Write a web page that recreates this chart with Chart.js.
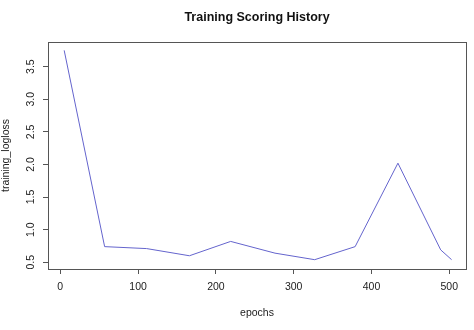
<!DOCTYPE html>
<html>
<head>
<meta charset="utf-8">
<script src="https://cdn.jsdelivr.net/npm/chart.js@4"></script>
<style>
  html, body { margin: 0; padding: 0; background: #fff; }
  #wrap { width: 474px; height: 330px; }
</style>
</head>
<body>
<div id="wrap"><canvas id="scoreChart" width="474" height="330"></canvas></div>
<script>
// values
const epochs = [5, 57, 111, 166, 219, 276, 327, 379, 434, 489, 503];
const trainingLogloss = [3.75, 0.74, 0.71, 0.60, 0.82, 0.64, 0.54, 0.74, 2.02, 0.69, 0.54];
const xTicks = [0, 100, 200, 300, 400, 500];
const yTicks = [0.5, 1.0, 1.5, 2.0, 2.5, 3.0, 3.5];

const FONT = "'Liberation Sans', Arial, sans-serif";
const axisGray = "#555555";

const points = epochs.map((e, i) => ({ x: e, y: trainingLogloss[i] }));

// box, title and rotated y tick labels, R style
const rPlot = {
    id: "rPlot",
    afterDraw(chart) {
        const c = chart.ctx;
        const a = chart.chartArea;
        c.save();
        c.strokeStyle = axisGray;
        c.lineWidth = 1;
        c.strokeRect(Math.round(a.left) + 0.5, Math.round(a.top) + 0.5,
            Math.round(a.right - a.left), Math.round(a.bottom - a.top));

        c.fillStyle = "#111";
        c.font = "bold 12.5px " + FONT;
        c.textAlign = "center";
        c.textBaseline = "middle";
        c.fillText("Training Scoring History", (a.left + a.right) / 2, 17.5);

        const ys = chart.scales.y;
        c.font = "10.5px " + FONT;
        c.fillStyle = "#222";
        c.textBaseline = "alphabetic";
        yTicks.forEach(v => {
            c.save();
            c.translate(33.5, ys.getPixelForValue(v));
            c.rotate(-Math.PI / 2);
            c.fillText(v.toFixed(1), 0, 0);
            c.restore();
        });
        c.restore();
    }
};

new Chart(document.getElementById("scoreChart"), {
    type: "line",
    data: {
        datasets: [{
            label: "training_logloss",
            data: points,
            borderColor: "rgb(100,100,205)",
            borderWidth: 1,
            pointRadius: 0,
            tension: 0,
            fill: false
        }]
    },
    options: {
        responsive: false,
        animation: false,
        devicePixelRatio: 1,
        layout: { padding: { top: 42, right: 8, left: 0, bottom: 0 } },
        plugins: {
            legend: { display: false },
            title: { display: false },
            tooltip: { enabled: false }
        },
        scales: {
            x: {
                type: "linear",
                min: -15.8,
                max: 521.5,
                afterBuildTicks: s => { s.ticks = xTicks.map(v => ({ value: v })); },
                afterFit: s => { s.height = 61; },
                grid: { drawOnChartArea: false, tickLength: 5, color: axisGray },
                border: { display: false },
                ticks: {
                    color: "#222",
                    font: { family: FONT, size: 10.5 },
                    padding: 7,
                    maxRotation: 0
                },
                title: {
                    display: true,
                    text: "epochs",
                    color: "#222",
                    font: { family: FONT, size: 10.5 },
                    padding: { top: 0, bottom: 11 }
                }
            },
            y: {
                min: 0.397,
                max: 3.878,
                afterBuildTicks: s => { s.ticks = yTicks.map(v => ({ value: v })); },
                afterFit: s => { s.width = 48; },
                grid: { drawOnChartArea: false, tickLength: 5, color: axisGray },
                border: { display: false },
                ticks: { display: false },
                title: {
                    display: true,
                    text: "training_logloss",
                    color: "#222",
                    font: { family: FONT, size: 10.5 },
                    padding: { top: 0, bottom: 0 }
                }
            }
        }
    },
    plugins: [rPlot]
});
</script>
</body>
</html>
